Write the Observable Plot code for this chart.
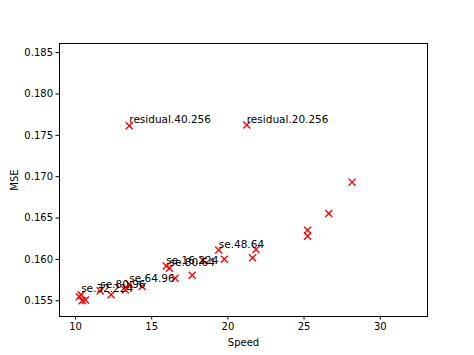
<!DOCTYPE html>
<html>
<head>
<meta charset="utf-8">
<script src="https://cdn.jsdelivr.net/npm/d3@7"></script>
<script src="https://cdn.jsdelivr.net/npm/@observablehq/plot@0.6"></script>
<style>
  html, body { margin: 0; padding: 0; background: #fff; }
  #chart svg { display: block; }
</style>
</head>
<body>
<div id="chart"></div>
<script>
const speed = [10.37, 10.44, 10.65, 10.25, 11.62, 12.34, 13.27, 13.53, 14.37, 15.96, 16.17, 16.54, 17.66, 18.36, 19.40, 19.77, 21.62, 21.85, 25.23, 25.23, 26.62, 28.15, 13.53, 21.24];
const mse = [0.15572, 0.15500, 0.15508, 0.15548, 0.15620, 0.15572, 0.15632, 0.15700, 0.15672, 0.15920, 0.15893, 0.15773, 0.15809, 0.15989, 0.16113, 0.16001, 0.16020, 0.16121, 0.16353, 0.16281, 0.16554, 0.16934, 0.17615, 0.17624];
const labels = ["se.32.224", "", "", "", "se.80.96", "", "", "se.64.96", "", "se.16.224", "se.80.64", "", "", "", "se.48.64", "", "", "", "", "", "", "", "residual.40.256", "residual.20.256"];
const xTicks = [10, 15, 20, 25, 30];
const yTicks = [0.155, 0.160, 0.165, 0.170, 0.175, 0.180, 0.185];

const data = speed.map((s, i) => ({speed: s, mse: mse[i], label: labels[i]}));

const chart = Plot.plot({
  width: 474,
  height: 355,
  marginLeft: 59,
  marginRight: 47,
  marginTop: 43,
  marginBottom: 39,
  style: {fontFamily: "DejaVu Sans", fontSize: "10px", color: "#000", background: "#fff"},
  x: {domain: [8.95, 33.1]},
  y: {domain: [0.1531, 0.1861]},
  marks: [
    Plot.frame({stroke: "#000", strokeWidth: 1}),
    Plot.axisX({ticks: xTicks, tickSize: 3.5, tickPadding: 3, label: "Speed", labelAnchor: "center", labelArrow: "none", labelOffset: 29, fontSize: 10}),
    Plot.axisY({ticks: yTicks, tickFormat: d3.format(".3f"), tickSize: 3.5, tickPadding: 3, label: "MSE", labelAnchor: "center", labelArrow: "none", labelOffset: 49, fontSize: 10}),
    Plot.dot(data, {x: "speed", y: "mse", symbol: "times", r: 3.3, stroke: "#ff0000", strokeWidth: 1.4}),
    Plot.text(data.filter(d => d.label), {x: "speed", y: "mse", text: "label", textAnchor: "start", lineAnchor: "bottom", dy: -2.5, fill: "#000", fontSize: 10.5})
  ]
});
document.getElementById("chart").appendChild(chart);
</script>
</body>
</html>
